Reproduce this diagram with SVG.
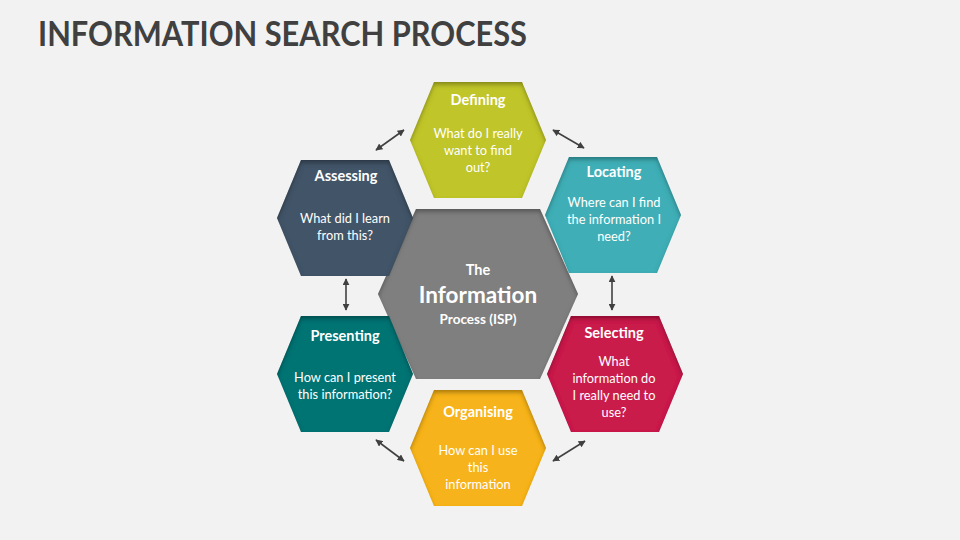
<svg xmlns="http://www.w3.org/2000/svg" xmlns:xlink="http://www.w3.org/1999/xlink" width="960" height="540" viewBox="0 0 960 540">
<defs>
<filter id="inner" x="-10%" y="-10%" width="120%" height="120%">
<feComponentTransfer in="SourceAlpha" result="inv"><feFuncA type="table" tableValues="1 0"/></feComponentTransfer>
<feGaussianBlur in="inv" stdDeviation="2" result="blur"/>
<feOffset in="blur" dx="0" dy="3" result="off"/>
<feFlood flood-color="#000" flood-opacity="0.55"/>
<feComposite operator="in" in2="off" result="sh"/>
<feComposite operator="in" in="sh" in2="SourceAlpha" result="inner"/>
<feMerge><feMergeNode in="SourceGraphic"/><feMergeNode in="inner"/></feMerge>
</filter>
<polygon id="hexS" points="-44,-58 44,-58 68,0 44,58 -44,58 -68,0"/>
<polygon id="hexL" points="-62,-85 62,-85 100,0 62,85 -62,85 -100,0"/>
<marker id="ah" viewBox="0 0 10 10" refX="9" refY="5" markerWidth="7" markerHeight="7" markerUnits="userSpaceOnUse" orient="auto-start-reverse">
<path d="M0,0 L10,5 L0,10 Z" fill="#404040"/>
</marker>
</defs>
<style>
.t{font-family:Lato,"Liberation Sans",sans-serif;fill:#fff;text-anchor:middle}
.h{font-weight:700;font-size:14.5px}
.b{font-size:12.8px}
.c{stroke:#404040;stroke-width:1.6;fill:none;marker-start:url(#ah);marker-end:url(#ah)}
</style>
<rect width="960" height="540" fill="#F2F2F2"/>
<text x="38" y="46" font-family="Lato,'Liberation Sans',sans-serif" font-weight="700" font-size="34" fill="#404040" textLength="489" lengthAdjust="spacingAndGlyphs">INFORMATION SEARCH PROCESS</text>

<g id="connectors">
<line class="c" x1="376" y1="150" x2="404" y2="130"/>
<line class="c" x1="553" y1="130" x2="584" y2="148"/>
<line class="c" x1="346" y1="279" x2="346" y2="310"/>
<line class="c" x1="612" y1="276" x2="612" y2="310"/>
<line class="c" x1="376" y1="440" x2="404" y2="461"/>
<line class="c" x1="553" y1="461" x2="585" y2="441"/>
</g>

<g id="center">
<use xlink:href="#hexL" transform="translate(478,294)" fill="#7F7F7F" filter="url(#inner)"/>
<text class="t h" x="478" y="275">The</text>
<text class="t" x="478" y="303" font-weight="700" font-size="22.5">Information</text>
<text class="t" x="478" y="324" font-weight="700" font-size="13.5">Process (ISP)</text>
</g>

<g id="defining">
<use xlink:href="#hexS" transform="translate(478,140)" fill="#C0C52A" filter="url(#inner)"/>
<text class="t h" x="478" y="105">Defining</text>
<text class="t b" x="478" y="138">What do I really</text>
<text class="t b" x="478" y="155">want to find</text>
<text class="t b" x="478" y="172">out?</text>
</g>

<g id="locating">
<use xlink:href="#hexS" transform="translate(613,215)" fill="#3FAEB6" filter="url(#inner)"/>
<text class="t h" x="614" y="177">Locating</text>
<text class="t b" x="614" y="207">Where can I find</text>
<text class="t b" x="614" y="224">the information I</text>
<text class="t b" x="614" y="241">need?</text>
</g>

<g id="selecting">
<use xlink:href="#hexS" transform="translate(615,374)" fill="#CA1A4B" filter="url(#inner)"/>
<text class="t h" x="614" y="338">Selecting</text>
<text class="t b" x="614" y="366">What</text>
<text class="t b" x="614" y="383">information do</text>
<text class="t b" x="614" y="400">I really need to</text>
<text class="t b" x="614" y="417">use?</text>
</g>

<g id="organising">
<use xlink:href="#hexS" transform="translate(478,448)" fill="#F7B31A" filter="url(#inner)"/>
<text class="t h" x="478" y="417">Organising</text>
<text class="t b" x="478" y="455">How can I use</text>
<text class="t b" x="478" y="472">this</text>
<text class="t b" x="478" y="489">information</text>
</g>

<g id="presenting">
<use xlink:href="#hexS" transform="translate(345,374)" fill="#007373" filter="url(#inner)"/>
<text class="t h" x="345" y="341">Presenting</text>
<text class="t b" x="345" y="382">How can I present</text>
<text class="t b" x="345" y="399">this information?</text>
</g>

<g id="assessing">
<use xlink:href="#hexS" transform="translate(345,218)" fill="#435468" filter="url(#inner)"/>
<text class="t h" x="346" y="181">Assessing</text>
<text class="t b" x="345" y="223">What did I learn</text>
<text class="t b" x="345" y="240">from this?</text>
</g>
</svg>
